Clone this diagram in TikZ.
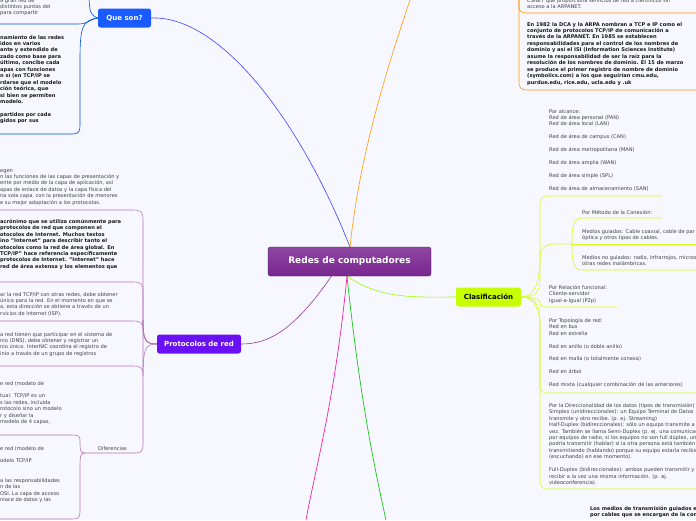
\documentclass[tikz,border=0pt]{standalone}
\usepackage{fontspec}
\setmainfont{DejaVu Sans}
\definecolor{protoc}{HTML}{6A10F5}
\definecolor{centc}{HTML}{7A2690}
\definecolor{quec}{HTML}{1A5BFF}
\begin{document}
\begin{tikzpicture}[x=1pt,y=-1pt,
  txt/.style={anchor=north west,inner sep=0pt,align=left,font=\fontsize{5.1}{6.45}\selectfont,text=black!75},
  btxt/.style={txt,font=\fontsize{5.1}{6.45}\selectfont\bfseries,text=black!90},
  topic/.style={rounded corners=2.5pt,font=\fontsize{7}{8}\selectfont\bfseries,inner sep=0pt,minimum height=19pt},
  bl/.style={draw=blue!60!cyan!80!black,line width=0.6pt},
  pl/.style={draw=violet!55,line width=0.6pt},
  ol/.style={draw=orange!80!yellow,line width=0.6pt},
  yl/.style={draw=lime!70!yellow!90!white,line width=0.6pt}]
\useasboundingbox (0,0) rectangle (696,520);
\fill[blue!3] (0,0) rectangle (696,520);
\clip (0,0) rectangle (696,520);
\coordinate (cTop) at (350,247);
\coordinate (cBot) at (347,276);
\draw[bl,draw=blue!75] (cTop) .. controls (300,120) and (220,15) .. (151,18);
\draw[ol] (cTop) .. controls (360,150) and (390,60) .. (410,0);
\draw[pl,draw=violet!80] (cTop) .. controls (300,330) and (270,344) .. (241,344);
\draw[yl,draw=lime!80!green] (cBot) .. controls (380,300) and (420,297) .. (456,297);
\draw[draw=green!75!black!90,line width=0.7pt] (cBot) .. controls (360,400) and (375,470) .. (386,520);
\draw[draw=magenta!85,line width=0.7pt] (cBot) .. controls (335,400) and (315,470) .. (306,520);
\node[topic,top color=centc!85!white,bottom color=centc,draw=centc!60!black,text=white,minimum width=163pt,minimum height=29pt,font=\fontsize{9}{10}\selectfont\bfseries] (central) at (349.5,261.5) {Redes de computadores};
\node[topic,fill=quec,text=white,minimum width=53pt] (queson) at (124.5,18) {Que son?};
\draw[bl] (queson.west) .. controls (88,15) and (90,5) .. (89,0);
\draw[bl] (queson.west) .. controls (88,20) and (88,24) .. (78,24) -- (0,24);
\draw[bl] (queson.west) .. controls (82,20) and (80,28) .. (80,60) -- (80,126) .. controls (80,132) and (78,134) .. (72,134) -- (0,134);
\node[txt] (q1) at (0,-2) {a gran red de\\ distintos puntos del\\ para compartir};
\node[btxt] (q2) at (0,35) {namiento de las redes\\idos en varios\\ante y extendido de\\zado como base para\\ último, concibe cada\\apas con funciones\\n sí (en TCP/IP se\\rdarse que el modelo\\ción teórica, que\\si bien se permiten\\modelo.\\[6.45pt]partidos por cada\\gidos por sus};
\node[topic,fill=protoc,text=white,minimum width=84pt] (proto) at (199,344) {Protocolos de red};
\node[txt] (p1) at (0,169) {egen\\n las funciones de las capas de presentación y\\ente por medio de la capa de aplicación, así\\apas de enlace de datos y la capa física del\\na sola capa, con la presentación de menores\\e su mejor adaptación a los protocolos.};
\node[btxt] (p2) at (0,219) {acrónimo que se utiliza comúnmente para\\protocolos de red que componen el\\otocolos de Internet. Muchos textos\\ino "Internet" para describir tanto el\\otocolos como la red de área global. En\\TCP/IP" hace referencia específicamente\\protocolos de Internet. "Internet" hace\\red de área extensa y los elementos que};
\node[txt] (p3) at (0,292) {ar la red TCP/IP con otras redes, debe obtener\\única para la red. En el momento en que se\\a, esta dirección se obtiene a través de un\\rvicios de Internet (ISP).};
\node[txt] (p4) at (0,332) {a red tienen que participar en el sistema de\\nio (DNS), debe obtener y registrar un\\nio único. InterNIC coordina el registro de\\inio a través de un grupo de registros};
\node[txt] (p5) at (0,381) {e red (modelo de\\\\tual. TCP/IP es un\\s las redes, incluida\\rotocolo sino un modelo\\r y diseñar la\\ modelo de 4 capas,};
\node[txt] (dif) at (98,446.5) {Diferencias};
\node[txt] (p6) at (0,446) {e red (modelo de\\\\odelo TCP/IP\\\\\\a las responsabilidades\\n de las\\ OSI. La capa de acceso\\nlace de datos y las};
\foreach \yy in {210,282,321,366}{
  \draw[pl] (proto.west) .. controls (145,344) and (143,340) .. (143,320) -- (143,\yy+10) .. controls (143,\yy+2) and (141,\yy) .. (133,\yy) -- (0,\yy);
}
\draw[pl] (proto.west) .. controls (145,344) and (143,348) .. (143,380) -- (143,445) .. controls (143,451) and (141,453) .. (135,453) -- (85,453);
\draw[pl] (85,453) .. controls (80,453) and (80,450) .. (80,440) .. controls (80,436) and (78,435) .. (72,435) -- (0,435);
\draw[pl] (85,453) .. controls (80,453) and (80,456) .. (80,470) -- (80,512) .. controls (80,518) and (78,519) .. (72,519) -- (0,519);
\draw[ol] (519,0) -- (519,6) .. controls (519,11) and (521,13) .. (527,13) -- (696,13);
\draw[ol] (519,0) -- (519,82) .. controls (519,88) and (521,90) .. (527,90) -- (696,90);
\node[txt] (h1) at (527,-2) {CSNET que proporciona servicios de red a científicos sin\\acceso a la ARPANET.};
\node[btxt] (h2) at (527,22) {En 1982 la DCA y la ARPA nombran a TCP e IP como el\\conjunto de protocolos TCP/IP de comunicación a\\través de la ARPANET. En 1985 se establecen\\responsabilidades para el control de los nombres de\\dominio y así el ISI (Information Sciences Institute)\\asume la responsabilidad de ser la raíz para la\\resolución de los nombres de dominio. El 15 de marzo\\se produce el primer registro de nombre de dominio\\(symbolics.com) a los que seguirían cmu.edu,\\purdue.edu, rice.edu, ucla.edu y .uk};
\node[topic,fill=lime!90!yellow,text=black,minimum width=65pt] (clas) at (488.5,297) {Clasificación};
\draw[yl] (clas.east) .. controls (535,297) and (540,292) .. (540,280) -- (540,204) .. controls (540,198) and (542,196) .. (548,196) -- (662,196);
\draw[yl] (clas.east) .. controls (535,297) and (540,280) .. (540,260) .. controls (540,248) and (545,244) .. (555,244) -- (572,244);
\draw[yl] (572,244) .. controls (572,230) and (572,218) .. (582,218) -- (662,218);
\draw[yl] (572,244) -- (696,244);
\draw[yl] (572,244) .. controls (572,258) and (572,270) .. (582,270) -- (696,270);
\draw[yl] (clas.east) .. controls (535,297) and (540,300) .. (540,302) .. controls (540,306) and (543,307) .. (548,307) -- (617,307);
\draw[yl] (clas.east) .. controls (535,297) and (540,305) .. (540,320) -- (540,386) .. controls (540,391) and (542,393) .. (548,393) -- (696,393);
\draw[yl] (clas.east) .. controls (535,297) and (540,310) .. (540,330) -- (540,481) .. controls (540,487) and (542,489) .. (548,489) -- (696,489);
\node[txt] (c1) at (549,109) {Por alcance:\\Red de área personal (PAN)\\Red de área local (LAN)\\\\Red de área de campus (CAN)\\\\Red de área metropolitana (MAN)\\\\Red de área amplia (WAN)\\\\Red de área simple (SPL)\\\\Red de área de almacenamiento (SAN)};
\node[txt] (c2) at (582,210) {Por Método de la Conexión:};
\node[txt] (c3) at (582,229) {Medios guiados: Cable coaxial, cable de par trenzado, fibra\\óptica y otros tipos de cables.};
\node[txt] (c4) at (582,255) {Medios no guiados: radio, infrarrojos, microondas, láser y\\otras redes inalámbricas.};
\node[txt] (c5) at (549,285) {Por Relación funcional:\\Cliente-servidor\\Igual-a-Igual (P2p)};
\node[txt] (c6) at (549,318) {Por Topología de red:\\Red en bus\\Red en estrella\\\\Red en anillo (o doble anillo)\\\\Red en malla (o totalmente conexa)\\\\Red en árbol\\\\Red mixta (cualquier combinación de las anteriores)};
\node[txt] (c7) at (549,403) {Por la Direccionalidad de los datos (tipos de transmisión)\\Simplex (unidireccionales): un Equipo Terminal de Datos\\transmite y otro recibe. (p. ej. Streaming)\\Half-Duplex (bidireccionales): sólo un equipo transmite a la\\vez. También se llama Semi-Duplex (p. ej. una comunicación\\por equipos de radio, si los equipos no son full dúplex, uno no\\podría transmitir (hablar) si la otra persona está también\\transmitiendo (hablando) porque su equipo estaría recibiendo\\(escuchando) en ese momento).\\\\Full-Duplex (bidireccionales): ambos pueden transmitir y\\recibir a la vez una misma información. (p. ej.\\videoconferencia).};
\node[btxt] (m1) at (590,506) {Los medios de transmisión guiados están constituidos\\por cables que se encargan de la conducción};
\end{tikzpicture}
\end{document}
